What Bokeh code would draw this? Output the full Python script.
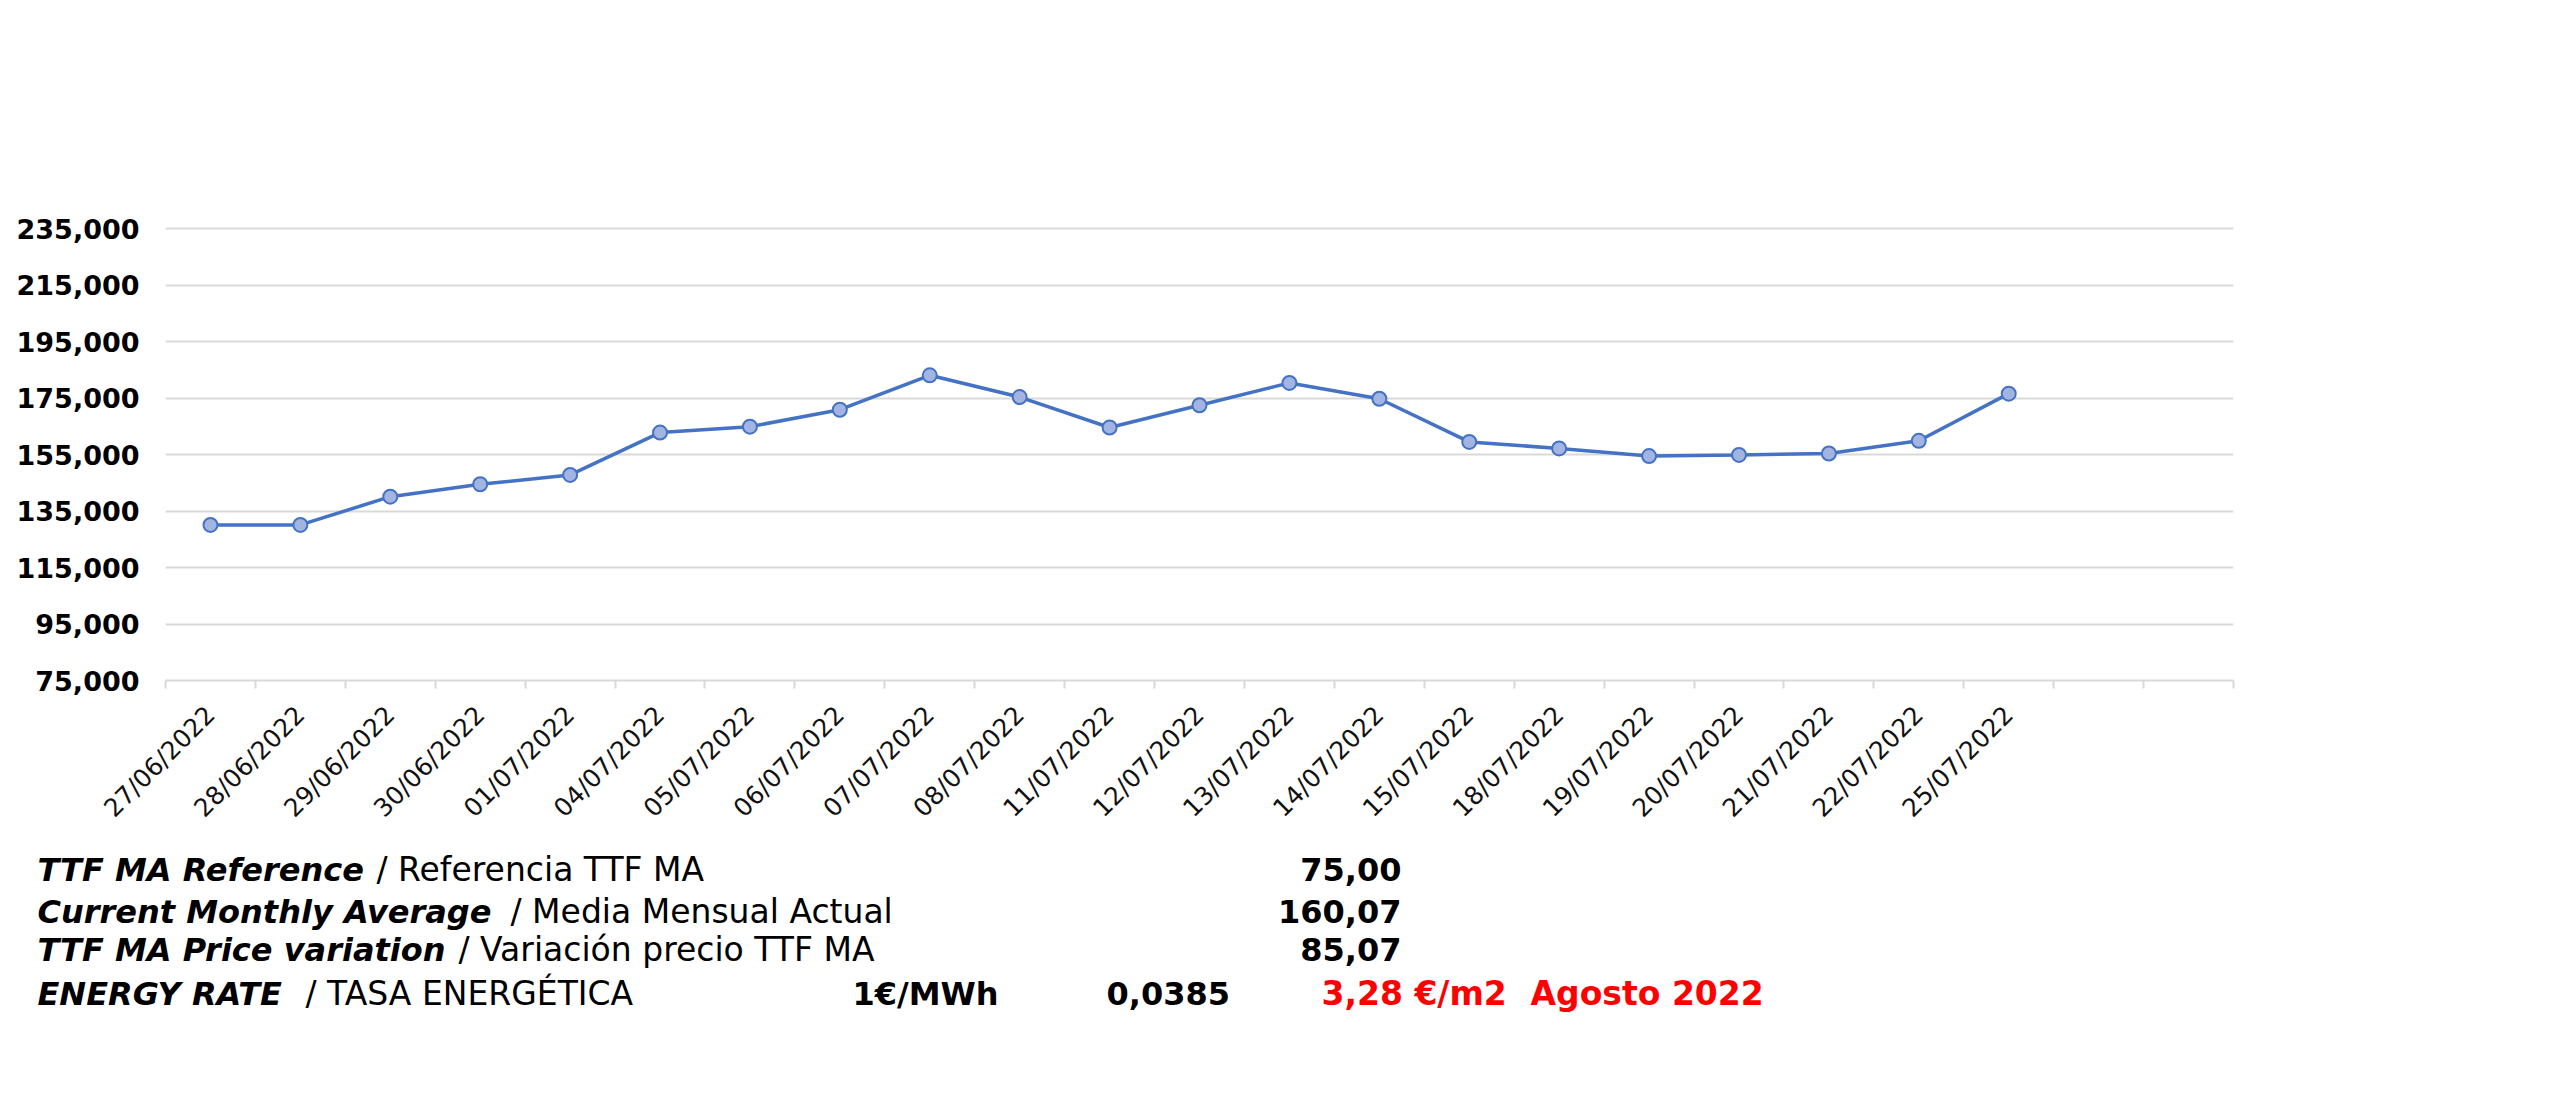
import math
from bokeh.plotting import figure
from bokeh.models import Range1d, FixedTicker
from bokeh.layouts import column
from bokeh.embed import file_html
from bokeh.resources import INLINE
from bokeh.core.properties import value

# ---------------- data ----------------
dates = ["27/06/2022", "28/06/2022", "29/06/2022", "30/06/2022", "01/07/2022",
         "04/07/2022", "05/07/2022", "06/07/2022", "07/07/2022", "08/07/2022",
         "11/07/2022", "12/07/2022", "13/07/2022", "14/07/2022", "15/07/2022",
         "18/07/2022", "19/07/2022", "20/07/2022", "21/07/2022", "22/07/2022",
         "25/07/2022"]
prices = [130.1, 130.1, 140.1, 144.5, 147.8,
          162.8, 164.9, 170.9, 183.1, 175.4,
          164.6, 172.5, 180.4, 174.8, 159.5,
          157.2, 154.5, 154.9, 155.4, 159.9,
          176.6]
n_slots = 23  # category slots on the axis (two trailing empty ones)
y_ticks = [75, 95, 115, 135, 155, 175, 195, 215, 235]
y_tick_labels = ["75,000", "95,000", "115,000", "135,000", "155,000",
                 "175,000", "195,000", "215,000", "235,000"]

labels_en = ["TTF MA Reference", "Current Monthly Average", "TTF MA Price variation", "ENERGY RATE"]
labels_es = ["/ Referencia TTF MA", "/ Media Mensual Actual", "/ Variación precio TTF MA", "/ TASA ENERGÉTICA"]
table_values = ["75,00", "160,07", "85,07"]
rate_unit = "1€/MWh"
rate_value = "0,0385"
rate_result = "3,28 €/m2"
rate_month = "Agosto 2022"

# ---------------- chart ----------------
FONT = "DejaVu Sans"
GRID = "#d9d9d9"
W = 2544
H1 = 835
H2 = 1081 - H1
F_LEFT, F_RIGHT, F_TOP, F_BOTTOM = 165, 2233, 226, 681   # frame edges on the canvas

xs = list(range(len(dates)))

p = figure(width=W, height=H1, output_backend="svg", toolbar_location=None,
           x_range=Range1d(-0.5, n_slots - 0.5), y_range=Range1d(75, 235.8),
           min_border_left=F_LEFT, min_border_right=W - F_RIGHT,
           min_border_top=F_TOP, min_border_bottom=H1 - F_BOTTOM)
p.outline_line_color = None
p.background_fill_color = "white"
p.border_fill_color = "white"

p.line(xs, prices, line_color="#4472C4", line_width=3.5)
p.scatter(xs, prices, size=14, fill_color="#a2b4e2", line_color="#4472C4", line_width=2)

# x axis
p.xaxis.ticker = FixedTicker(ticks=xs, minor_ticks=[i - 0.5 for i in range(n_slots + 1)])
p.xaxis.major_label_overrides = {i: d for i, d in zip(xs, dates)}
p.xaxis.major_label_orientation = math.pi / 4
p.xaxis.major_label_text_font = FONT
p.xaxis.major_label_text_font_size = "25px"
p.xaxis.major_label_text_color = "#111111"
p.xaxis.major_label_standoff = 22
p.xaxis.axis_line_color = GRID
p.xaxis.axis_line_width = 2
p.xaxis.major_tick_line_color = None
p.xaxis.major_tick_out = 0
p.xaxis.major_tick_in = 0
p.xaxis.minor_tick_line_color = GRID
p.xaxis.minor_tick_line_width = 2
p.xaxis.minor_tick_out = 8
p.xaxis.minor_tick_in = 0
p.xgrid.visible = False

# y axis
p.yaxis.ticker = FixedTicker(ticks=y_ticks)
p.yaxis.major_label_overrides = {t: l for t, l in zip(y_ticks, y_tick_labels)}
p.yaxis.major_label_text_font = FONT
p.yaxis.major_label_text_font_style = "bold"
p.yaxis.major_label_text_font_size = "27px"
p.yaxis.major_label_text_color = "#000000"
p.yaxis.axis_line_color = None
p.yaxis.major_tick_line_color = None
p.yaxis.minor_tick_line_color = None
p.yaxis.major_tick_out = 0
p.yaxis.major_tick_in = 0
p.yaxis.major_label_standoff = 26
p.ygrid.grid_line_color = GRID
p.ygrid.grid_line_width = 2

# ---------------- bottom table: a second, axis-less figure in pixel coordinates ----------------
q = figure(width=W, height=H2, output_backend="svg", toolbar_location=None,
           x_range=Range1d(0, W), y_range=Range1d(H2, 0),
           x_axis_type=None, y_axis_type=None, min_border=0)
q.outline_line_color = None
q.xgrid.visible = False
q.ygrid.visible = False
for fig in (p, q):
    try:
        fig.frame_align = False
    except Exception:
        pass

Y0 = H1  # canvas row where the table figure starts
row_y = [869 - Y0, 911 - Y0, 949 - Y0, 993 - Y0]
en_x = [37, 37, 37, 37]
es_x = [376, 510, 458, 305]


def add_text(xv, yv, txt, size, style, align="left", color="#000000"):
    q.text(x=xv, y=yv, text=txt, text_font=value(FONT), text_font_size=size,
           text_font_style=style, text_baseline="middle", text_align=align, text_color=color)


add_text(en_x, row_y, labels_en, "32px", "bold italic")
add_text(es_x, row_y, labels_es, "33px", "normal")
add_text([1401] * 3, row_y[:3], table_values, "32px", "bold", align="right")
add_text([852], [row_y[3]], [rate_unit], "32px", "bold")
add_text([1106], [row_y[3]], [rate_value], "32px", "bold")
add_text([1321], [row_y[3]], [rate_result], "33px", "bold", color="#ff0000")
add_text([1530], [row_y[3]], [rate_month], "33px", "bold", color="#ff0000")

layout = column(p, q, spacing=0)
open("out.html", "w").write(file_html(layout, INLINE))
